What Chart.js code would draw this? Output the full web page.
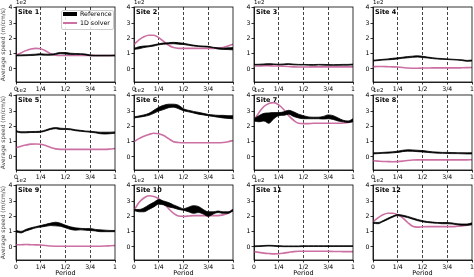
<!DOCTYPE html>
<html><head><meta charset="utf-8">
<script src="https://cdn.jsdelivr.net/npm/chart.js@4/dist/chart.umd.min.js"></script>
<style>
html,body{margin:0;padding:0;background:#fff;overflow:hidden;width:474px;height:277px;}
canvas{position:absolute;}
.lbl{position:absolute;font-family:"DejaVu Sans";color:#000;white-space:nowrap;line-height:1;}
</style></head><body>
<script>
// ---------- data (values in units of 1e2) ----------
const periods=[0,0.05,0.1,0.15,0.2,0.25,0.3,0.35,0.4,0.45,0.5,0.55,0.6,0.65,0.7,0.75,0.8,0.85,0.9,0.95,1];
const xTickValues=[0,0.25,0.5,0.75,1];
const xTickLabels=['0','1/4','1/2','3/4','1'];
const yTickValues=[0,1,2,3,4];
const yTickLabels=['0','1','2','3','4'];
const siteNames=['Site 1','Site 2','Site 3','Site 4','Site 5','Site 6','Site 7','Site 8','Site 9','Site 10','Site 11','Site 12'];

const refLo1=[.86,.86,.87,.88,.9,.92,.9,.9,.95,1.0,.98,.95,.95,.95,.92,.86,.85,.85,.85,.85,.86];
const refHi1=[.92,.92,.93,.95,.97,.99,.97,.97,1.02,1.08,1.07,1.03,1.01,1.0,.98,.92,.9,.9,.9,.9,.91];
const solver1=[.9,1.05,1.2,1.3,1.35,1.32,1.18,1.0,.9,.88,.88,.88,.88,.88,.88,.88,.88,.88,.88,.88,.88];

const refLo2=[1.28,1.32,1.4,1.45,1.5,1.58,1.62,1.64,1.65,1.62,1.6,1.55,1.5,1.47,1.45,1.43,1.38,1.3,1.28,1.27,1.25];
const refHi2=[1.35,1.45,1.5,1.52,1.58,1.65,1.7,1.72,1.74,1.72,1.68,1.62,1.56,1.52,1.5,1.48,1.42,1.38,1.36,1.38,1.4];
const solver2=[1.6,1.9,2.1,2.2,2.2,2.05,1.8,1.55,1.4,1.35,1.35,1.35,1.35,1.35,1.35,1.35,1.35,1.36,1.4,1.5,1.62];

const refLo3=[.27,.27,.28,.28,.3,.27,.28,.3,.27,.26,.26,.25,.24,.26,.25,.24,.24,.24,.25,.25,.26];
const refHi3=[.3,.31,.33,.35,.33,.31,.33,.35,.32,.3,.3,.29,.29,.3,.3,.29,.28,.29,.3,.3,.32];
const solver3=[.2,.2,.21,.21,.2,.2,.18,.16,.14,.13,.13,.13,.14,.14,.14,.14,.14,.14,.14,.14,.14];

const refLo4=[.52,.55,.58,.6,.62,.66,.7,.73,.76,.78,.75,.72,.68,.65,.63,.62,.6,.58,.55,.5,.52];
const refHi4=[.57,.6,.63,.66,.7,.73,.77,.81,.84,.86,.83,.78,.74,.7,.68,.66,.64,.62,.6,.56,.58];
const solver4=[.15,.16,.16,.15,.14,.13,.1,.06,.05,.05,.06,.06,.07,.07,.07,.07,.07,.07,.08,.09,.1];

const refLo5=[1.65,1.58,1.58,1.6,1.6,1.62,1.7,1.8,1.85,1.8,1.8,1.78,1.72,1.68,1.65,1.62,1.58,1.52,1.5,1.52,1.55];
const refHi5=[1.72,1.65,1.65,1.66,1.67,1.68,1.77,1.87,1.92,1.88,1.86,1.84,1.78,1.74,1.7,1.68,1.65,1.62,1.62,1.62,1.64];
const solver5=[.6,.7,.78,.84,.85,.83,.75,.62,.53,.5,.5,.5,.5,.5,.5,.5,.5,.5,.5,.52,.55];

const refLo6=[2.55,2.6,2.65,2.72,2.85,3.0,3.1,3.22,3.25,3.15,3.02,2.95,2.88,2.8,2.75,2.7,2.65,2.6,2.55,2.52,2.5];
const refHi6=[2.62,2.68,2.75,2.85,3.05,3.25,3.38,3.45,3.45,3.38,3.15,3.05,2.98,2.92,2.85,2.78,2.75,2.72,2.72,2.7,2.7];
const solver6=[1.0,1.2,1.35,1.47,1.55,1.52,1.4,1.2,1.0,.95,.93,.93,.93,.93,.93,.93,.93,.93,.95,1.0,1.08];

const refLo7=[2.35,2.3,2.35,2.2,2.5,2.7,2.72,2.8,2.65,2.55,2.5,2.5,2.5,2.5,2.48,2.5,2.45,2.35,2.3,2.25,2.3];
const refHi7=[2.5,2.7,2.85,2.88,2.9,2.9,2.95,3.05,2.95,2.8,2.7,2.62,2.6,2.6,2.65,2.75,2.7,2.55,2.4,2.35,2.5];
const solver7=[2.4,2.9,3.3,3.5,3.55,3.4,3.1,2.7,2.4,2.2,2.18,2.18,2.2,2.2,2.2,2.2,2.2,2.2,2.22,2.25,2.35];

const refLo8=[.2,.22,.24,.25,.27,.3,.35,.38,.37,.35,.33,.3,.27,.25,.24,.23,.22,.22,.21,.2,.2];
const refHi8=[.27,.28,.3,.32,.34,.38,.44,.47,.46,.44,.42,.38,.34,.32,.3,.3,.29,.28,.28,.27,.28];
const solver8=[-.25,-.27,-.29,-.3,-.31,-.3,-.27,-.23,-.2,-.19,-.19,-.19,-.19,-.19,-.19,-.19,-.19,-.19,-.19,-.19,-.18];

const refLo9=[.98,.92,1.05,1.15,1.25,1.3,1.35,1.4,1.38,1.35,1.25,1.15,1.1,1.12,1.1,1.08,1.05,1.0,1.0,1.0,1.0];
const refHi9=[1.08,1.02,1.15,1.25,1.33,1.4,1.48,1.56,1.62,1.55,1.42,1.32,1.25,1.22,1.2,1.2,1.15,1.12,1.1,1.08,1.08];
const solver9=[.15,.15,.16,.15,.14,.13,.1,.06,.05,.05,.05,.05,.05,.05,.05,.05,.05,.05,.06,.08,.1];

const refLo10=[2.38,2.3,2.3,2.45,2.62,2.8,2.75,2.62,2.55,2.45,2.4,2.3,2.2,2.25,2.15,2.0,2.15,2.25,2.2,2.2,2.35];
const refHi10=[2.45,2.45,2.55,2.75,2.92,3.1,3.0,2.9,2.75,2.62,2.5,2.6,2.7,2.65,2.45,2.3,2.3,2.35,2.3,2.3,2.45];
const solver10=[2.4,2.9,3.2,3.35,3.3,3.15,2.85,2.5,2.2,2.02,2.0,2.02,2.05,2.05,2.05,2.05,2.05,2.05,2.1,2.2,2.45];

const refLo11=[.02,.03,.05,.06,.05,.03,.02,.02,.02,.02,.03,.03,.03,.03,.03,.03,.03,.03,.03,.03,.03];
const refHi11=[.07,.08,.1,.11,.1,.08,.07,.07,.07,.07,.08,.08,.08,.08,.08,.08,.08,.08,.08,.08,.08];
const solver11=[-.3,-.35,-.4,-.43,-.45,-.44,-.4,-.35,-.3,-.28,-.28,-.28,-.28,-.28,-.28,-.28,-.29,-.29,-.3,-.3,-.3];

const refLo12=[1.55,1.52,1.65,1.8,1.95,2.05,2.0,1.92,1.82,1.72,1.65,1.6,1.57,1.55,1.52,1.52,1.5,1.45,1.42,1.42,1.45];
const refHi12=[1.62,1.6,1.72,1.88,2.02,2.12,2.08,2.0,1.9,1.8,1.72,1.66,1.63,1.6,1.6,1.6,1.57,1.52,1.5,1.5,1.58];
const solver12=[1.65,1.9,2.1,2.2,2.2,2.1,1.9,1.6,1.35,1.3,1.32,1.33,1.33,1.33,1.33,1.33,1.33,1.35,1.38,1.42,1.5];

const refLoAll=[refLo1,refLo2,refLo3,refLo4,refLo5,refLo6,refLo7,refLo8,refLo9,refLo10,refLo11,refLo12];
const refHiAll=[refHi1,refHi2,refHi3,refHi4,refHi5,refHi6,refHi7,refHi8,refHi9,refHi10,refHi11,refHi12];
const solverAll=[solver1,solver2,solver3,solver4,solver5,solver6,solver7,solver8,solver9,solver10,solver11,solver12];

// ---------- layout ----------
const colLeft=[16,134,254,373], rowTop=[7,95,185];
const plotW=99, plotH=75;
const L=16, R=5, T=5;
const FONT='DejaVu Sans';
const PINK='#cc6fa2';

const framePlugin={id:'frame',afterDraw(c){const a=c.chartArea,x=c.ctx;x.save();x.strokeStyle='#000';x.lineWidth=0.8;x.strokeRect(a.left,a.top,a.right-a.left,a.bottom-a.top);x.restore();}};

function addLabel(text,left,top,size,bold){
  const d=document.createElement('div');d.className='lbl';d.textContent=text;
  d.style.left=left+'px';d.style.top=top+'px';d.style.fontSize=size+'px';
  if(bold)d.style.fontWeight='bold';
  document.body.appendChild(d);return d;
}

for(let s=0;s<12;s++){
  const row=Math.floor(s/4), col=s%4;
  const B = row===2 ? 17 : 13;
  const cv=document.createElement('canvas');
  const w=plotW+L+R, h=plotH+T+B;
  cv.width=w;cv.height=h;cv.style.width=w+'px';cv.style.height=h+'px';
  cv.style.left=(colLeft[col]-L)+'px';cv.style.top=(rowTop[row]-T)+'px';
  document.body.appendChild(cv);
  const pts=arr=>periods.map((x,i)=>({x:x,y:arr[i]}));
  new Chart(cv,{
    type:'line',
    data:{datasets:[
      {label:'refLo',data:pts(refLoAll[s]),borderColor:'#000',borderWidth:0.8,pointRadius:0,fill:false,cubicInterpolationMode:'monotone'},
      {label:'Reference',data:pts(refHiAll[s]),borderColor:'#000',backgroundColor:'#000',borderWidth:0.8,pointRadius:0,fill:'-1',cubicInterpolationMode:'monotone'},
      {label:'1D solver',data:pts(solverAll[s]),borderColor:PINK,borderWidth:1.6,pointRadius:0,fill:false,cubicInterpolationMode:'monotone'}
    ]},
    options:{
      responsive:false,animation:false,devicePixelRatio:1,
      layout:{padding:{top:T,right:R,left:0,bottom:0}},
      plugins:{legend:{display:false},tooltip:{enabled:false}},
      scales:{
        x:{type:'linear',min:0,max:1,
          afterBuildTicks:sc=>{sc.ticks=xTickValues.map(v=>({value:v}));},
          afterFit:sc=>{sc.height=B;},
          ticks:{callback:(v,i)=>xTickLabels[i],font:{family:FONT,size:6.2},color:'#000',padding:1,maxRotation:0,autoSkip:false},
          grid:{color:ctx=>(ctx.tick&&(ctx.tick.value===0||ctx.tick.value===1))?'rgba(0,0,0,0)':'#444',lineWidth:1,
                tickColor:'#000',tickLength:2.5,tickWidth:0.8,tickBorderDash:[]},
          border:{display:true,color:'#000',width:0.8,dash:[3,2]},
          title:{display:row===2,text:'Period',font:{family:FONT,size:6.5},color:'#000',padding:{top:0,bottom:0}}
        },
        y:{type:'linear',min:-0.85,max:4.05,
          afterBuildTicks:sc=>{sc.ticks=yTickValues.map(v=>({value:v}));},
          afterFit:sc=>{sc.width=L;},
          ticks:{callback:(v,i)=>yTickLabels[i],font:{family:FONT,size:6.2},color:'#000',padding:1},
          grid:{drawOnChartArea:false,tickColor:'#000',tickLength:2.5,tickWidth:0.8},
          border:{display:true,color:'#000',width:0.8},
          title:{display:col===0,text:'Average speed (m/cm/s)',font:{family:FONT,size:6},color:'#444',padding:{top:0,bottom:0}}
        }
      }
    },
    plugins:[framePlugin]
  });
  addLabel('1e2',colLeft[col],rowTop[row]-7,5.5,false);
  addLabel(siteNames[s],colLeft[col]+2,rowTop[row]+2,6.5,true);
}

// legend (site 1)
const lg=document.createElement('div');
lg.style.cssText='position:absolute;left:61px;top:10px;width:51px;height:18px;border:0.8px solid #ccc;border-radius:2px;background:rgba(255,255,255,0.85);';
document.body.appendChild(lg);
const sw1=document.createElement('div');sw1.style.cssText='position:absolute;left:63px;top:12px;width:14px;height:4px;background:#000;';document.body.appendChild(sw1);
const sw2=document.createElement('div');sw2.style.cssText='position:absolute;left:63px;top:22px;width:14px;height:1.6px;background:'+PINK+';';document.body.appendChild(sw2);
addLabel('Reference',80,11,6.3,false);
addLabel('1D solver',80,20,6.3,false);
</script>
</body></html>
